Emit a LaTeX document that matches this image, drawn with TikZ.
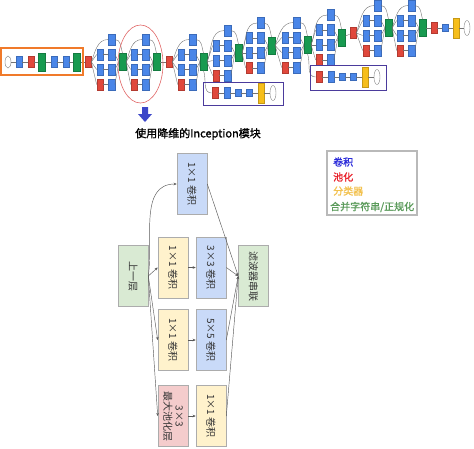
\documentclass[tikz,border=0pt]{standalone}
\usepackage{fontspec}
\usepackage{graphicx}
\usetikzlibrary{arrows.meta,shapes.geometric}
\newfontfamily\cjk{Noto Sans CJK SC}
\newfontfamily\cjkbf[FakeBold=1.5]{Noto Sans CJK SC}
\definecolor{gblue}{HTML}{4A86E8}
\definecolor{gred}{HTML}{E0483C}
\definecolor{ggreen}{HTML}{189A50}
\definecolor{gyellow}{HTML}{F6BE1A}
\definecolor{lblue}{HTML}{C9DAF8}
\definecolor{lyellow}{HTML}{FFF2CC}
\definecolor{lgreen}{HTML}{D9EAD3}
\definecolor{lpink}{HTML}{F4CCCC}
\definecolor{auxpurple}{HTML}{4B3B9C}
\definecolor{stemorange}{HTML}{F07A2A}
\definecolor{ringred}{HTML}{E06666}
\definecolor{markblue}{HTML}{3C46C8}
\definecolor{legblue}{HTML}{2B2BD9}
\definecolor{legred}{HTML}{E8202A}
\definecolor{legyellow}{HTML}{F2C14E}
\definecolor{leggreen}{HTML}{5B9B5B}

\tikzset{
  blk/.style={inner sep=0pt, minimum width=6.5pt, minimum height=11pt, line width=0.2pt},
  conv/.style={blk, fill=gblue, draw=gblue!80!black},
  pool/.style={blk, fill=gred, draw=gred!80!black},
  concat/.style={blk, minimum width=7pt, minimum height=17pt, fill=ggreen, draw=ggreen!80!black},
  fc/.style={blk, minimum width=6pt, minimum height=7pt, fill=gblue, draw=gblue!80!black},
  softmax/.style={blk, minimum width=5.5pt, minimum height=20pt, fill=gyellow, draw=gyellow!80!black},
  io/.style={ellipse, draw=gray, line width=0.4pt, fill=white, inner sep=0pt, minimum width=6pt, minimum height=15pt},
  link/.style={draw=gray!90!black, line width=0.4pt},
  layer/.style={draw=gray!65, line width=0.6pt, inner sep=0pt, minimum width=30pt, minimum height=61pt,
    font=\cjk\fontsize{10}{12}\selectfont, text=black!80},
  bluebox/.style={layer, fill=lblue},
  yellowbox/.style={layer, fill=lyellow},
  greenbox/.style={layer, fill=lgreen},
  pinkbox/.style={layer, fill=lpink},
  arr/.style={draw=gray!70!black, line width=0.45pt, -{Stealth[length=3pt,width=2.6pt]}},
  legtext/.style={anchor=west, inner sep=0pt, font=\cjkbf\fontsize{10}{12}\selectfont}
}

% one inception module: name, input node, x of first column, centre y
\newcommand{\incmod}[4]{%
  \node[conv] (#1t) at (#3+11.5,#4-22.5) {};
  \node[conv] (#1b1) at (#3,#4-7.5) {};
  \node[conv] (#1c1) at (#3,#4+7.5) {};
  \node[pool] (#1d1) at (#3,#4+22.5) {};
  \node[conv] (#1b2) at (#3+11.5,#4-7.5) {};
  \node[conv] (#1c2) at (#3+11.5,#4+7.5) {};
  \node[conv] (#1d2) at (#3+11.5,#4+22.5) {};
  \node[concat] (#1) at (#3+22.5,#4) {};
  \draw[link] (#2.east) to[out=70,in=180] (#1t.west);
  \draw[link] (#1t.east) to[out=0,in=105] (#1.north);
  \foreach \rw in {b,c,d} {
    \draw[link] (#2.east) -- (#1\rw1.west);
    \draw[link] (#1\rw1) -- (#1\rw2);
    \draw[link] (#1\rw2.east) -- (#1.west);
  }%
}

\begin{document}
\begin{tikzpicture}[x=1pt,y=-1pt]
\useasboundingbox (0,0) rectangle (474,448);

% stem
\node[io, minimum height=12pt] (in) at (8,62) {};
\node[conv] (s1) at (19,62) {};
\node[pool] (s2) at (31,62) {};
\node[concat, minimum height=18pt] (s3) at (42,62) {};
\node[conv] (s4) at (54,62) {};
\node[conv] (s5) at (66,62) {};
\node[concat, minimum height=18pt] (s6) at (77,62) {};
\node[pool] (p2) at (88,62) {};
\draw[link] (in) -- (s1) -- (s2) -- (s3) -- (s4) -- (s5) -- (s6) -- (p2);
\draw[stemorange, line width=1.3pt] (1,48) rectangle (83,75);

% inception modules
\incmod{m3a}{p2}{100}{62}
\incmod{m3b}{m3a}{134}{62}
\node[pool] (p3) at (169,62) {};
\draw[link] (m3b) -- (p3);
\incmod{m4a}{p3}{181}{62}
\incmod{m4b}{m4a}{216}{53}
\incmod{m4c}{m4b}{249}{45.5}
\incmod{m4d}{m4c}{285}{45}
\incmod{m4e}{m4d}{319}{37.5}
\node[pool] (p4) at (353,33) {};
\draw[link] (m4e) -- (p4);
\incmod{m5a}{p4}{366}{28}
\incmod{m5b}{m5a}{400}{28}
\node[pool] (p5) at (434,28) {};
\node[fc] (f5) at (445,28) {};
\node[softmax] (sm) at (456,28) {};
\node[io] (out) at (467,28) {};
\draw[link] (m5b) -- (p5) -- (f5) -- (sm) -- (out);

% auxiliary classifier 1
\node[pool] (x1p) at (215,93) {};
\node[conv] (x1c) at (227,93) {};
\node[fc] (x1f) at (238,93) {};
\node[fc] (x1g) at (249,93) {};
\node[softmax] (x1s) at (261,93) {};
\node[io] (x1o) at (273,93) {};
\draw[link] (m4a.south) to[out=-70,in=180] (x1p.west);
\draw[link] (x1p) -- (x1c) -- (x1f) -- (x1g) -- (x1s) -- (x1o);
\draw[auxpurple, line width=1pt] (203,82) rectangle (283,105);

% auxiliary classifier 2
\node[pool] (x2p) at (319,77) {};
\node[conv] (x2c) at (331,77) {};
\node[fc] (x2f) at (342,77) {};
\node[fc] (x2g) at (353,77) {};
\node[softmax] (x2s) at (365,77) {};
\node[io] (x2o) at (377,77) {};
\draw[link] (m4d.south) to[out=-70,in=180] (x2p.west);
\draw[link] (x2p) -- (x2c) -- (x2f) -- (x2g) -- (x2s) -- (x2o);
\draw[auxpurple, line width=1pt] (310,65) rectangle (386,90);

% highlighted module
\draw[ringred, line width=0.6pt] (140.5,64) ellipse [x radius=22.5, y radius=39];
\fill[markblue] (142,107) -- (148,107) -- (148,114) -- (152,114) -- (145,122)
  -- (138,114) -- (142,114) -- cycle;
\node[font=\cjkbf\fontsize{11}{13}\selectfont] (title) at (198,134) {使用降维的Inception模块};

% inception module with reductions
\node[bluebox] (top11) at (192,184) {\rotatebox{-90}{1×1 卷积}};
\node[greenbox] (prev) at (133,276) {\rotatebox{-90}{上一层}};
\node[yellowbox] (r3) at (173,267.5) {\rotatebox{-90}{1×1 卷积}};
\node[bluebox] (k3) at (211,267.5) {\rotatebox{-90}{3×3 卷积}};
\node[greenbox] (cat) at (253.5,276) {\rotatebox{-90}{滤波器串联}};
\node[yellowbox] (r5) at (173,340) {\rotatebox{-90}{1×1 卷积}};
\node[bluebox] (k5) at (211,340) {\rotatebox{-90}{5×5 卷积}};
\node[pinkbox] (mp) at (173,416) {\rotatebox{-90}{\shortstack{3×3\\最大池化层}}};
\node[yellowbox] (rp) at (211,416) {\rotatebox{-90}{1×1 卷积}};

\draw[arr] (prev.east) to[out=82,in=180] (top11.west);
\draw[arr] (prev.east) -- (r3.west);
\draw[arr] (prev.east) -- (r5.west);
\draw[arr] (prev.east) -- (mp.west);
\draw[arr] (r3) -- (k3);
\draw[arr] (r5) -- (k5);
\draw[arr] (mp) -- (rp);
\draw[arr] (top11.east) -- (cat.west);
\draw[arr] (k3.east) -- (cat.west);
\draw[arr] (k5.east) -- (cat.west);
\draw[arr] (rp.east) -- (cat.west);

% legend
\draw[gray!55, line width=1.2pt] (327,151) rectangle (417,215);
\node[legtext, text=legblue] (lconv) at (333,162) {卷积};
\node[legtext, text=legred] (lpool) at (333,177) {池化};
\node[legtext, text=legyellow] (lcls) at (333,191) {分类器};
\node[legtext, text=leggreen] (lcat) at (330,207) {合并字符串/正规化};
\end{tikzpicture}
\end{document}
